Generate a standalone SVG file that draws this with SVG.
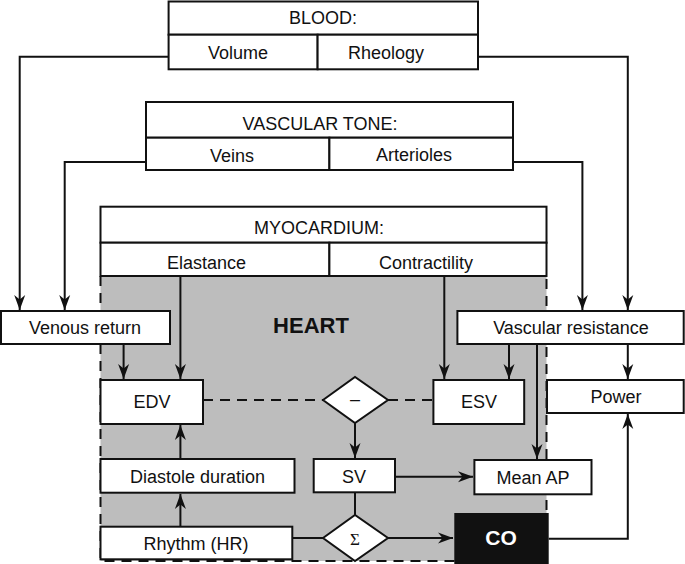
<svg xmlns="http://www.w3.org/2000/svg" width="685" height="564" viewBox="0 0 685 564">
<style>
.box{fill:#fff;stroke:#111;stroke-width:2}
.ln{fill:none;stroke:#111;stroke-width:2}
.dash{fill:none;stroke:#111;stroke-width:2;stroke-dasharray:10 7}
.t{font-family:"Liberation Sans",Arial,sans-serif;font-size:18px;fill:#111;text-anchor:middle}
.b{font-weight:bold;font-size:22px}
</style>
<defs>
<marker id="ah" markerUnits="userSpaceOnUse" markerWidth="18" markerHeight="14" refX="15" refY="6" orient="auto">
<path d="M0,0.5 L15,6 L0,11.5 L4.5,6 z" fill="#111"/>
</marker>
</defs>
<g id="heart-region">
<rect x="100.5" y="276" width="446" height="285" fill="#bdbdbd"/>
<path class="dash" d="M100.5,276 V561 H546.5 V276"/>
</g>
<g id="connectors">
<path class="ln" d="M168.6,56.7 H19.7 V310" marker-end="url(#ah)"/>
<path class="ln" d="M478,56.7 H627.8 V310" marker-end="url(#ah)"/>
<path class="ln" d="M146,162 H64.7 V310" marker-end="url(#ah)"/>
<path class="ln" d="M513,162 H582.4 V310" marker-end="url(#ah)"/>
<path class="ln" d="M180.4,276 V379" marker-end="url(#ah)"/>
<path class="ln" d="M444.3,276 V379" marker-end="url(#ah)"/>
<path class="ln" d="M123.6,344 V379" marker-end="url(#ah)"/>
<path class="ln" d="M509,344 V379" marker-end="url(#ah)"/>
<path class="ln" d="M627.8,344 V379" marker-end="url(#ah)"/>
<path class="ln" d="M537,344 V459" marker-end="url(#ah)"/>
<path class="dash" d="M203,400 H323"/>
<path class="dash" d="M388,400 H433"/>
<path class="ln" d="M355,423 V458" marker-end="url(#ah)"/>
<path class="ln" d="M395,476.7 H473" marker-end="url(#ah)"/>
<path class="ln" d="M180.4,459 V425" marker-end="url(#ah)"/>
<path class="ln" d="M180.4,527 V494" marker-end="url(#ah)"/>
<path class="ln" d="M355,492 V515"/>
<path class="ln" d="M292,538 H323"/>
<path class="ln" d="M388,538 H453" marker-end="url(#ah)"/>
<path class="ln" d="M548.7,538.7 H627.8 V414" marker-end="url(#ah)"/>
</g>
<g id="blood">
<rect class="box" x="168.6" y="1.5" width="309.4" height="33.2"/>
<rect class="box" x="168.6" y="34.7" width="149" height="34.6"/>
<rect class="box" x="317.6" y="34.7" width="160.4" height="34.6"/>
<text class="t" x="323" y="24">BLOOD:</text>
<text class="t" x="238" y="59">Volume</text>
<text class="t" x="386" y="59">Rheology</text>
</g>
<g id="vascular-tone">
<rect class="box" x="146" y="102" width="367" height="35.7"/>
<rect class="box" x="146" y="137.7" width="183.4" height="32.3"/>
<rect class="box" x="329.4" y="137.7" width="183.6" height="32.3"/>
<text class="t" x="320" y="129.5">VASCULAR TONE:</text>
<text class="t" x="232" y="161.5">Veins</text>
<text class="t" x="414" y="161">Arterioles</text>
</g>
<g id="myocardium">
<rect class="box" x="100.5" y="206.7" width="446" height="36"/>
<rect class="box" x="100.5" y="242.7" width="228.9" height="33.3"/>
<rect class="box" x="329.4" y="242.7" width="217.1" height="33.3"/>
<text class="t" x="319" y="233.5">MYOCARDIUM:</text>
<text class="t" x="206.6" y="268.5">Elastance</text>
<text class="t" x="426" y="268.5">Contractility</text>
</g>
<g id="heart-label">
<text class="t b" x="311" y="333">HEART</text>
</g>
<g id="venous-return">
<rect class="box" x="1" y="311" width="169" height="33"/>
<text class="t" x="85" y="334">Venous return</text>
</g>
<g id="vascular-resistance">
<rect class="box" x="457.4" y="311" width="226.3" height="33"/>
<text class="t" x="571" y="334">Vascular resistance</text>
</g>
<g id="edv">
<rect class="box" x="100.5" y="380" width="102.5" height="44"/>
<text class="t" x="152" y="408">EDV</text>
</g>
<g id="esv">
<rect class="box" x="433.4" y="380" width="90.8" height="44"/>
<text class="t" x="479" y="408">ESV</text>
</g>
<g id="power">
<rect class="box" x="547" y="380" width="136.7" height="33"/>
<text class="t" x="616" y="402.5">Power</text>
</g>
<g id="minus">
<path class="box" d="M323,400 L355,377 L388,400 L355,423 z"/>
<text class="t" x="355" y="405">–</text>
</g>
<g id="sv">
<rect class="box" x="313.7" y="459" width="81.3" height="33.3"/>
<text class="t" x="354" y="482.5">SV</text>
</g>
<g id="mean-ap">
<rect class="box" x="474.4" y="460" width="117.1" height="34.3"/>
<text class="t" x="533" y="483.5">Mean AP</text>
</g>
<g id="diastole-duration">
<rect class="box" x="100.5" y="459" width="194" height="33.7"/>
<text class="t" x="197.5" y="482.5">Diastole duration</text>
</g>
<g id="rhythm">
<rect class="box" x="100.5" y="526.7" width="191.8" height="32.6"/>
<text class="t" x="196" y="550">Rhythm (HR)</text>
</g>
<g id="sigma">
<path class="box" d="M323,538 L355,515 L388,538 L355,561 z"/>
<text class="t" x="355" y="544.5" style="font-family:'Liberation Serif','DejaVu Serif',serif;font-size:17px">Σ</text>
</g>
<g id="co">
<rect x="454.3" y="513" width="94.4" height="51" fill="#111"/>
<text class="t b" x="501" y="545" style="fill:#fff;font-size:21px">CO</text>
</g>
</svg>
